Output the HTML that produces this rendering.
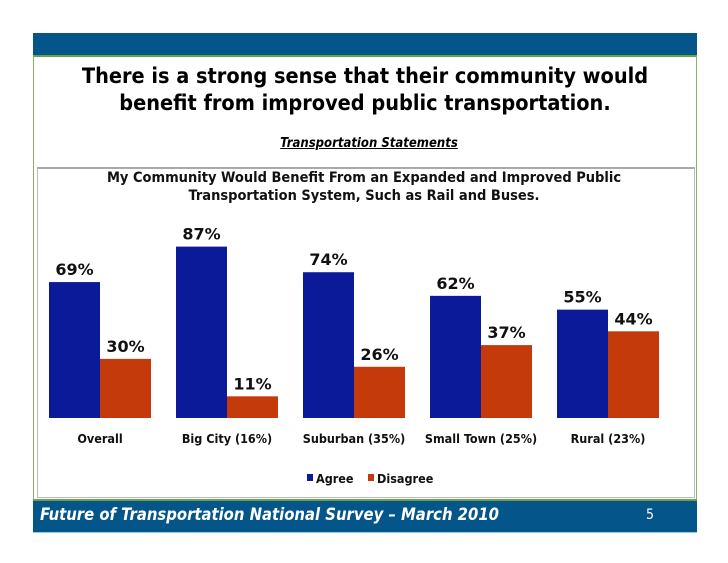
<!DOCTYPE html>
<html><head><meta charset="utf-8"><style>
body{margin:0;width:728px;height:563px;background:#fff;position:relative;overflow:hidden;font-family:"DejaVu Sans","Liberation Sans",sans-serif;}
.abs{position:absolute;}
</style></head><body>
<div class="abs" style="left:33px;top:33px;width:664px;height:22px;background:#04558a;border-bottom:2px solid #6aa24a"></div>
<div class="abs" style="left:33px;top:55px;width:1px;height:446px;background:#8ab06a"></div>
<div class="abs" style="left:696px;top:55px;width:1px;height:446px;background:#8ab06a"></div>
<div class="abs" style="left:13px;top:63px;width:704px;text-align:center;font:bold 21.5px/27px 'DejaVu Sans Condensed','DejaVu Sans',sans-serif;color:#000">There is a strong sense that their community would<br>benefit from improved public transportation.</div>
<div class="abs" style="left:270px;top:136px;width:198px;text-align:center;font:italic bold 13px 'DejaVu Sans Condensed','DejaVu Sans',sans-serif;text-decoration:underline;white-space:nowrap">Transportation Statements</div>
<div class="abs" style="left:37px;top:167px;width:656px;height:328px;border-top:2px solid #aaa;border-left:1px solid #bbb;border-right:1px solid #bbb;border-bottom:1px solid #bbb"></div>
<div class="abs" style="left:64px;top:169px;width:600px;text-align:center;font:bold 14.5px/18px 'DejaVu Sans Condensed','DejaVu Sans',sans-serif;color:#111;white-space:nowrap">My Community Would Benefit From an Expanded and Improved Public<br>Transportation System, Such as Rail and Buses.</div>
<svg class="abs" id="chart" style="left:0;top:0" width="728" height="563"></svg>
<div class="abs" style="left:33px;top:499px;width:664px;height:31px;background:#04558a;border-top:2px solid #6aa24a;border-bottom:1px solid #9cc">
<span style="position:absolute;left:7px;top:4px;color:#fff;font:italic bold 16.5px 'DejaVu Sans Condensed','DejaVu Sans',sans-serif;white-space:nowrap">Future of Transportation National Survey – March 2010</span>
<span style="position:absolute;left:613px;top:6px;color:#fff;font:14px 'DejaVu Sans Condensed',sans-serif">5</span></div>
<script>
const categories=["Overall","Big City (16%)","Suburban (35%)","Small Town (25%)","Rural (23%)"];
const agree=[69,87,74,62,55];
const disagree=[30,11,26,37,44];
const NS="http://www.w3.org/2000/svg";
const svg=document.getElementById('chart');
const base=418,scale=1.97,x0=49,step=127,bw=51;
function y(v){return base-v*scale;}
function gx(i){return x0+i*step;}
function mk(t,a){const e=document.createElementNS(NS,t);for(const k in a)e.setAttribute(k,a[k]);svg.appendChild(e);return e;}
categories.forEach((c,i)=>{
 [[agree[i],'#0b1a98','agree',0],[disagree[i],'#c43a0a','disagree',bw]].forEach(([v,col,s,off])=>{
  const r=mk('rect',{x:gx(i)+off,y:y(v),width:bw,height:v*scale,fill:col});
  
  
  const t=mk('text',{x:gx(i)+off+bw/2,y:y(v)-7,'text-anchor':'middle','font-family':'DejaVu Sans, sans-serif','font-weight':'bold','font-size':'16',fill:'#111'});
  t.textContent=v+'%';
  
  
 });
 const l=mk('text',{x:gx(i)+bw,y:443,'text-anchor':'middle','font-family':'DejaVu Sans Condensed, DejaVu Sans, sans-serif','font-weight':'bold','font-size':'12.5',fill:'#111'});
 l.textContent=c;
 
 
});
const lg=[['Agree','#0b1a98',307],['Disagree','#c43a0a',368]];
lg.forEach(([n,c,x])=>{
 const r=mk('rect',{x:x,y:474,width:6,height:7,fill:c});
 
 
 const t=mk('text',{x:x+9,y:483,'font-family':'DejaVu Sans Condensed, DejaVu Sans, sans-serif','font-weight':'bold','font-size':'12.5',fill:'#111'});
 t.textContent=n;
 
 
});
</script>
</body></html>
